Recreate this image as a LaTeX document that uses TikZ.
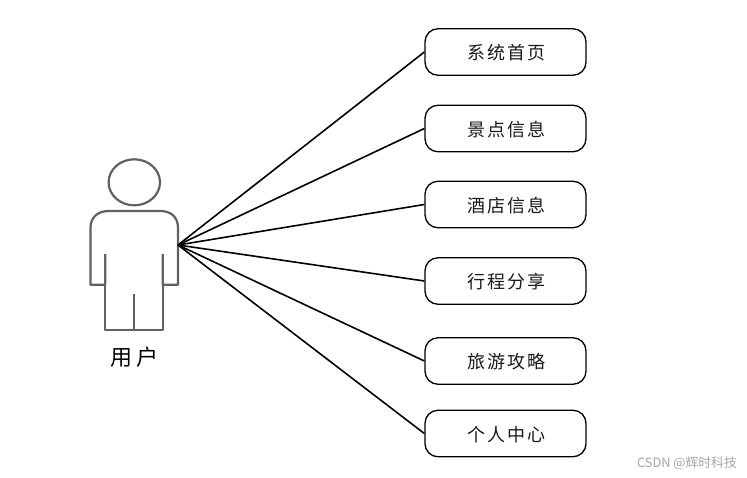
\documentclass[tikz,border=0pt]{standalone}
\usepackage{fontspec}
\newfontfamily\cjk[LetterSpace=12]{Noto Sans CJK SC}
\newfontfamily\cjklabel[LetterSpace=14]{Noto Sans CJK SC}
\newfontfamily\cjkplain{Noto Sans CJK SC}
\tikzset{
  usecase/.style={draw=black,line width=1.3pt,rounded corners=13pt,minimum width=161pt,minimum height=46.5pt,inner sep=0pt,fill=white,font=\fontsize{18pt}{20pt}\cjk,text=black!90,text depth=0pt,execute at begin node=\hspace*{2pt}},
  link/.style={draw=black,line width=1.6pt},
  person/.style={draw=black!62,line width=2.2pt,line join=round},
}
\begin{document}
\begin{tikzpicture}[x=1pt,y=-1pt]
\useasboundingbox (0,0) rectangle (747,477);
\fill[white] (0,0) rectangle (747,477);
% person
\draw[person] (134.3,182.3) ellipse [x radius=25.7,y radius=23];
\draw[person] (105.3,254) -- (105.3,284.7) -- (90.5,284.7) -- (90.5,228) .. controls (90.5,217) and (98,211) .. (109,211) -- (160,211) .. controls (171,211) and (178,217) .. (178,228) -- (178,284.7) -- (162.7,284.7) -- (162.7,254);
\draw[person] (105.3,284.7) -- (105.3,329.7) -- (162.7,329.7) -- (162.7,284.7);
\draw[person] (134,294) -- (134,329.7);
\coordinate (hand) at (178,245);
\node[font=\fontsize{22pt}{24pt}\cjklabel,text=black] (user) at (134.5,357) {用户};
% use cases
\node[usecase] (a) at (505.5,52) {系统首页};
\node[usecase] (b) at (505.5,128.5) {景点信息};
\node[usecase] (c) at (505.5,204.5) {酒店信息};
\node[usecase] (d) at (505.5,281) {行程分享};
\node[usecase] (e) at (505.5,361) {旅游攻略};
\node[usecase] (f) at (505.5,433.5) {个人中心};
\foreach \n in {a,b,c,d,e,f} \draw[link] (hand) -- (\n.west);
% watermark
\node[anchor=east,inner sep=0pt,text=black!35,font=\fontsize{12.8pt}{14pt}\cjkplain] (mark) at (737,463.5) {CSDN @辉时科技};
\end{tikzpicture}
\end{document}
